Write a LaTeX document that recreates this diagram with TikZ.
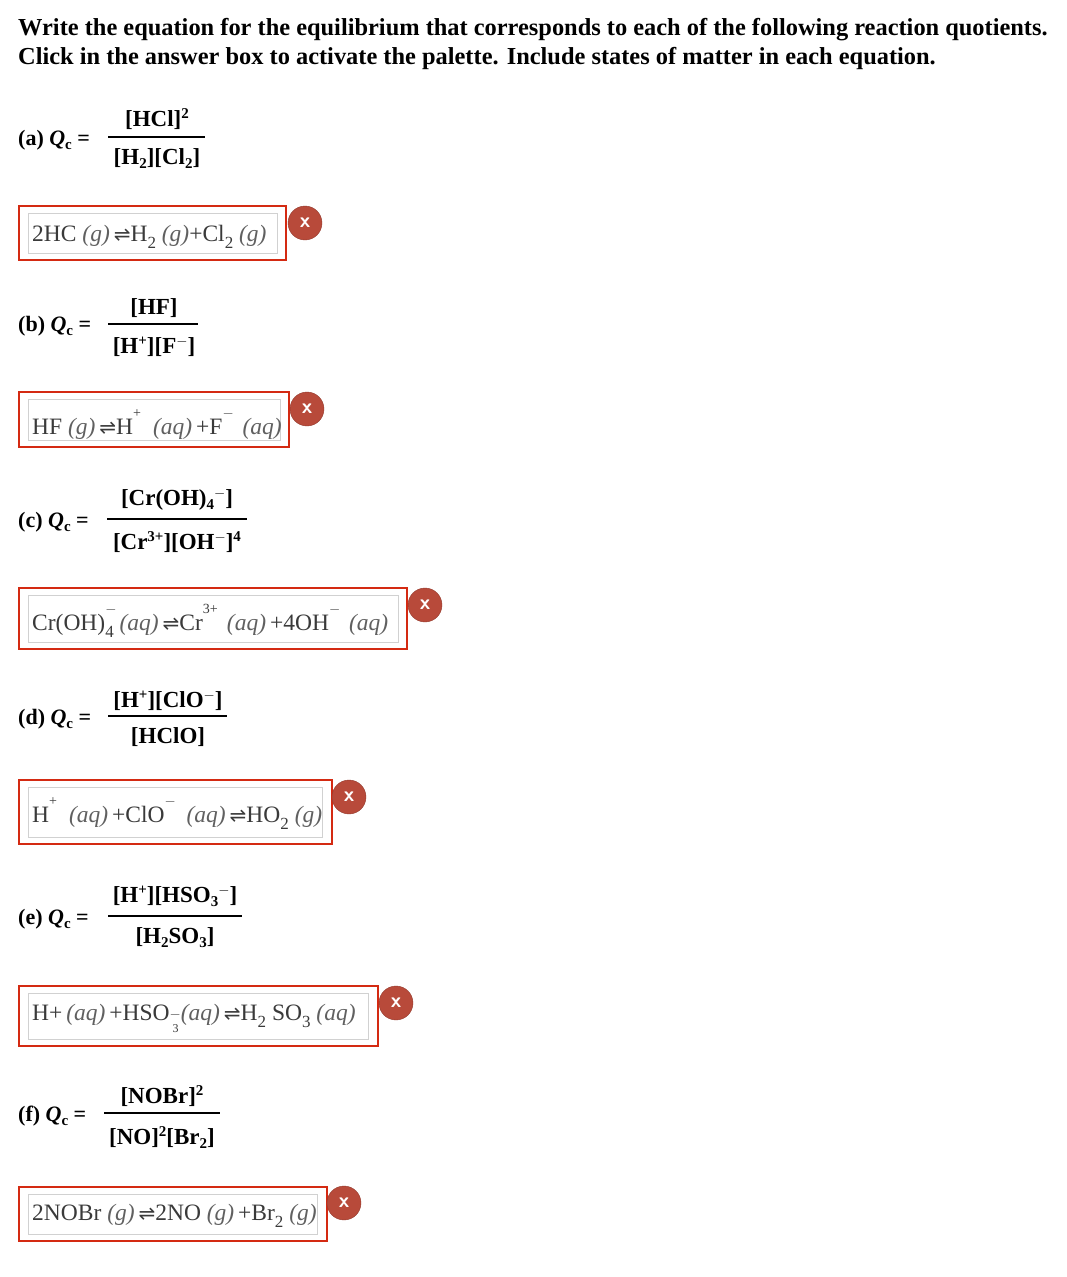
\documentclass[tikz,border=0pt]{standalone}
\usepackage{fontspec}
\setmainfont{Liberation Serif}
\newfontfamily\symf{DejaVu Sans}
\definecolor{boxred}{HTML}{D42A12}
\definecolor{btn}{HTML}{B84A3A}
\definecolor{ansc}{HTML}{3A3A3A}
\definecolor{stc}{HTML}{606060}
\newcommand\lo[1]{\raisebox{-7pt}{\fontsize{17}{17}\selectfont #1}}
\newcommand\hi[1]{\raisebox{17pt}{\makebox[0pt][l]{\fontsize{14}{14}\selectfont #1}}\hspace{20pt}}
\newcommand\st[1]{{\color{stc}\itshape(#1)}}
\newcommand\eqa{{\symf\fontsize{20}{20}\selectfont ⇌}}
\newcommand\bsub[1]{\raisebox{-4pt}{\fontsize{15}{15}\selectfont #1}}
\newcommand\bsup[1]{\raisebox{8pt}{\fontsize{15}{15}\selectfont #1}}
\begin{document}
\begin{tikzpicture}[x=1pt,y=-1pt,
  title/.style={anchor=base west,font=\fontsize{24.4}{24.4}\selectfont\bfseries,inner sep=0},
  q/.style={anchor=base west,font=\fontsize{22}{22}\selectfont\bfseries,inner sep=0},
  fr/.style={anchor=base,font=\fontsize{23}{23}\selectfont\bfseries,inner sep=0},
  ans/.style={anchor=base west,font=\fontsize{23.5}{23.5}\selectfont,text=ansc,inner sep=0},
  outer/.style={draw=boxred,line width=2.4pt},
  inner/.style={draw=black!18,line width=0.8pt},
  xbtn/.style={circle,fill=btn,draw=btn!80!black,minimum size=34pt,inner sep=0,text=white,font=\sffamily\bfseries\fontsize{21}{21}\selectfont}]
\useasboundingbox (0,0) rectangle (1067,1277);
\node[title] (t1) at (18,35) {Write the equation for the equilibrium that corresponds to each of the following reaction quotients.};
\node[title] (t2) at (18,64) {Click in the answer box to activate the palette. Include states of matter in each equation.};
% (a)
\node[q] (qa) at (18,145) {(a) \textit{Q}\bsub{c} =};
\node[fr] (na) at (157,126) {[HCl]\bsup{2}};
\draw[line width=1.2pt] (108,137) -- (205,137);
\node[fr] (da) at (157,164) {[H\bsub{2}][Cl\bsub{2}]};
\draw[outer] (19,206) rectangle (286,260); \draw[inner] (28,213) rectangle (277,253);
\node[ans] (aa) at (32,241) {2HC \st{g}\,\eqa H\lo{2} \st{g}+Cl\lo{2} \st{g}};
\node[xbtn] (xa) at (305,223) {x};
% (b)
\node[q] (qb) at (18,331) {(b) \textit{Q}\bsub{c} =};
\node[fr] (nb) at (154,314) {[HF]};
\draw[line width=1.2pt] (108,324) -- (198,324);
\node[fr] (db) at (154,353) {[H\bsup{+}][F\bsup{$-$}]};
\draw[outer] (19,392) rectangle (289,447); \draw[inner] (28,399) rectangle (280,440);
\node[ans] (ab) at (32,434) {HF \st{g}\,\eqa H\hi{+}\st{aq}\,+F\hi{$-$}\st{aq}};
\node[xbtn] (xb) at (307,409) {x};
% (c)
\node[q] (qc) at (18,527) {(c) \textit{Q}\bsub{c} =};
\node[fr] (nc) at (177,505) {[Cr(OH)\bsub{4}\bsup{$-$}]};
\draw[line width=1.2pt] (107,519) -- (247,519);
\node[fr] (dc) at (177,549) {[Cr\bsup{3+}][OH\bsup{$-$}]\bsup{4}};
\draw[outer] (19,588) rectangle (407,649); \draw[inner] (28,595) rectangle (398,642);
\node[ans] (ac) at (32,630) {Cr(OH)\hi{$-$}\hspace{-20pt}\lo{4} \st{aq}\,\eqa Cr\hi{3+}\hspace{4pt}\st{aq}\,+4OH\hi{$-$}\st{aq}};
\node[xbtn] (xc) at (425,605) {x};
% (d)
\node[q] (qd) at (18,724) {(d) \textit{Q}\bsub{c} =};
\node[fr] (nd) at (168,707) {[H\bsup{+}][ClO\bsup{$-$}]};
\draw[line width=1.2pt] (108,716) -- (227,716);
\node[fr] (dd) at (168,743) {[HClO]};
\draw[outer] (19,780) rectangle (332,844); \draw[inner] (28,787) rectangle (322,837);
\node[ans] (ad) at (32,822) {H\hi{+}\st{aq}\,+ClO\hi{$-$}\hspace{2pt}\st{aq}\,\eqa HO\lo{2} \st{g}};
\node[xbtn] (xd) at (349,797) {x};
% (e)
\node[q] (qe) at (18,924) {(e) \textit{Q}\bsub{c} =};
\node[fr] (ne) at (175,902) {[H\bsup{+}][HSO\bsub{3}\bsup{$-$}]};
\draw[line width=1.2pt] (108,916) -- (242,916);
\node[fr] (de) at (175,943) {[H\bsub{2}SO\bsub{3}]};
\draw[outer] (19,986) rectangle (378,1046); \draw[inner] (28,993) rectangle (368,1039);
\node[ans] (ae) at (32,1020) {H+\,\st{aq}\,+HSO\makebox[0pt][l]{\raisebox{-12pt}{\fontsize{12}{12}\selectfont\hspace{3pt}3}}\raisebox{2pt}{\fontsize{14}{14}\selectfont$-$}\st{aq}\,\eqa H\lo{2} SO\lo{3} \st{aq}};
\node[xbtn] (xe) at (396,1003) {x};
% (f)
\node[q] (qf) at (18,1121) {(f) \textit{Q}\bsub{c} =};
\node[fr] (nf) at (162,1103) {[NOBr]\bsup{2}};
\draw[line width=1.2pt] (104,1113) -- (220,1113);
\node[fr] (df) at (162,1144) {[NO]\bsup{2}[Br\bsub{2}]};
\draw[outer] (19,1187) rectangle (327,1241); \draw[inner] (28,1194) rectangle (317,1234);
\node[ans] (af) at (32,1220) {2NOBr \st{g}\,\eqa 2NO \st{g}\,+Br\lo{2} \st{g}};
\node[xbtn] (xf) at (344,1203) {x};
\end{tikzpicture}
\end{document}
